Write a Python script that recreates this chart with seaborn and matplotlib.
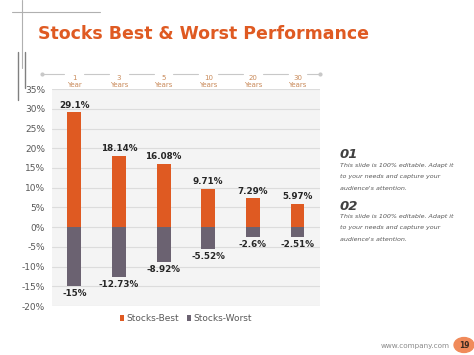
"""Stocks best & worst performance slide, rebuilt with seaborn."""

import numpy as np
import pandas as pd
import matplotlib
matplotlib.use("Agg")
import matplotlib.pyplot as plt
import seaborn as sns
from matplotlib.lines import Line2D
from matplotlib.patches import Circle

periods = ["1\nYear", "3\nYears", "5\nYears", "10\nYears", "20\nYears", "30\nYears"]
best = [29.1, 18.14, 16.08, 9.71, 7.29, 5.97]
worst = [-15, -12.73, -8.92, -5.52, -2.6, -2.51]
best_labels = ["29.1%", "18.14%", "16.08%", "9.71%", "7.29%", "5.97%"]
worst_labels = ["-15%", "-12.73%", "-8.92%", "-5.52%", "-2.6%", "-2.51%"]
yticks = list(range(-20, 40, 5))

ORANGE = "#DF5A22"
GREY = "#6B6271"
TEXT = "#595959"

sns.set_theme(style="white")
plt.rcParams["font.family"] = ["DejaVu Sans"]

df = pd.DataFrame({"period": periods, "best": best, "worst": worst})

fig = plt.figure(figsize=(4.74, 3.55), dpi=100)
ax = fig.add_axes([0.1097, 0.138, 0.565, 0.611])
ax.set_facecolor("#f4f4f4")

sns.barplot(data=df, x="period", y="best", color=ORANGE, width=0.31,
            saturation=1, linewidth=0, ax=ax, label="Stocks-Best")
sns.barplot(data=df, x="period", y="worst", color=GREY, width=0.31,
            saturation=1, linewidth=0, ax=ax, label="Stocks-Worst")

for i, (b, w) in enumerate(zip(best, worst)):
    ax.annotate(best_labels[i], (i, b), xytext=(0, 2), textcoords="offset points",
                ha="center", va="bottom", fontsize=6.3, fontweight="bold", color="#262626")
    ax.annotate(worst_labels[i], (i, w), xytext=(0, -2), textcoords="offset points",
                ha="center", va="top", fontsize=6.3, fontweight="bold", color="#262626")

ax.set_ylim(-20, 35)
ax.set_xlim(-0.5, len(periods) - 0.5)
ax.set_yticks(yticks)
ax.set_yticklabels([f"{t}%" for t in yticks], fontsize=6.5, color=TEXT)
ax.tick_params(axis="y", length=0, pad=5)
ax.yaxis.grid(True, color="#dcdcdc", lw=0.8)
ax.set_axisbelow(True)
for s in ax.spines.values():
    s.set_visible(False)
ax.set_xlabel("")
ax.set_ylabel("")

# period labels across the top, joined by a thin grey rule
ax.xaxis.tick_top()
ax.set_xticks(range(len(periods)))
ax.set_xticklabels(periods, fontsize=5, color="#C98A5A", linespacing=1.1)
ax.tick_params(axis="x", length=0, pad=1)
trans = ax.get_xaxis_transform()
yline = 1.068
for i in range(len(periods) - 1):
    ax.add_line(Line2D([i + 0.22, i + 0.78], [yline, yline], transform=trans,
                       color="#c8c8c8", lw=0.8, clip_on=False))
ax.add_line(Line2D([-0.72, -0.22], [yline, yline], transform=trans,
                   color="#c8c8c8", lw=0.8, clip_on=False, marker="o", markersize=2,
                   markevery=[0]))
ax.add_line(Line2D([5.22, 5.5], [yline, yline], transform=trans,
                   color="#c8c8c8", lw=0.8, clip_on=False, marker="o", markersize=2,
                   markevery=[1]))

leg = ax.legend(loc="upper center", bbox_to_anchor=(0.5, -0.0), ncol=2, frameon=False,
                fontsize=6.5, handlelength=0.5, handleheight=0.5, handletextpad=0.3,
                columnspacing=0.8, labelcolor=TEXT)

# title and slide decorations
fig.text(0.08, 0.905, "Stocks Best & Worst Performance", fontsize=12.5,
         fontweight="bold", color=ORANGE, va="center")
fig.add_artist(Line2D([12 / 474, 100 / 474], [1 - 12 / 355] * 2, color="#b0b0b0", lw=0.8))
fig.add_artist(Line2D([22 / 474] * 2, [1.0, 1 - 68 / 355], color="#b0b0b0", lw=0.8))
fig.add_artist(Line2D([18 / 474] * 2, [1 - 52 / 355, 1 - 100 / 355], color="#808080", lw=1.0))
fig.add_artist(Line2D([25 / 474] * 2, [1 - 52 / 355, 1 - 88 / 355], color="#808080", lw=1.0))

blurb = "This slide is 100% editable. Adapt it\nto your needs and capture your\naudience's attention."
fig.text(340 / 474, 1 - 155 / 355, "01", fontsize=9.5, fontweight="bold",
         fontstyle="italic", color="#404040", va="center")
fig.text(340 / 474, 1 - 163 / 355, blurb, fontsize=4.6, fontstyle="italic",
         color=TEXT, va="top", linespacing=2.6)
fig.text(340 / 474, 1 - 206 / 355, "02", fontsize=9.5, fontweight="bold",
         fontstyle="italic", color="#404040", va="center")
fig.text(340 / 474, 1 - 214 / 355, blurb, fontsize=4.6, fontstyle="italic",
         color=TEXT, va="top", linespacing=2.6)

fig.text(450 / 474, 1 - 346 / 355, "www.company.com", fontsize=5.2, color="#8a8a8a",
         ha="right", va="center")
fig.add_artist(Circle((464 / 474, 1 - 345 / 355), 0.021, transform=fig.transFigure,
                      color="#F08A5A"))
fig.text(464 / 474, 1 - 345 / 355, "19", fontsize=5.5, fontweight="bold",
         color="#3a2a20", ha="center", va="center")

fig.savefig("out.png", dpi=100)
